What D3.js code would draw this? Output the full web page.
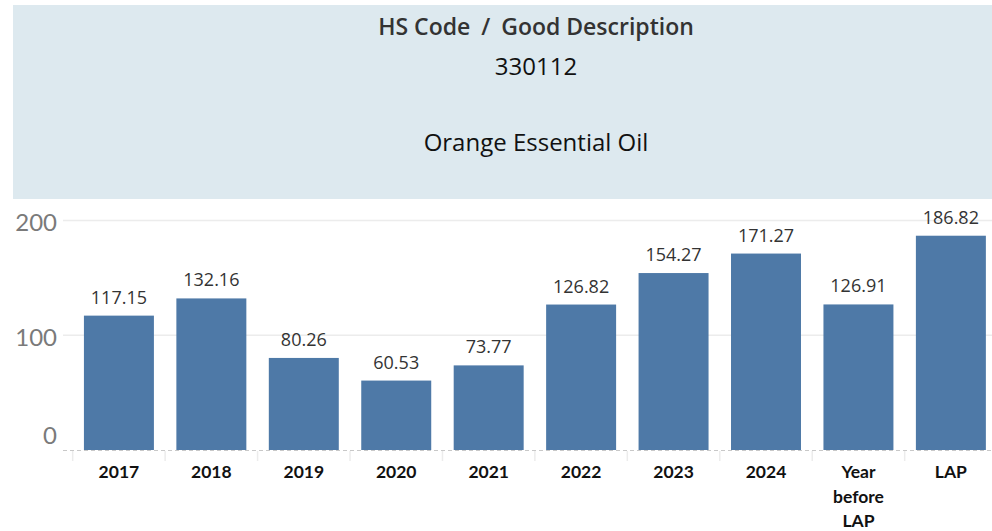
<!DOCTYPE html>
<html>
<head>
<meta charset="utf-8">
<script src="https://cdn.jsdelivr.net/npm/d3@7"></script>
<style>
  html, body { margin: 0; padding: 0; background: #fff; }
  svg { display: block; }
</style>
</head>
<body>
<svg id="chart" width="992" height="531"></svg>
<script>
const titleParts = ["HS Code ", "/ ", "Good Description"];
const codeLine = "330112";
const descLine = "Orange Essential Oil";
const categories = ["2017", "2018", "2019", "2020", "2021", "2022", "2023", "2024", "Year before LAP", "LAP"];
const values = [117.15, 132.16, 80.26, 60.53, 73.77, 126.82, 154.27, 171.27, 126.91, 186.82];
const yTicks = [0, 100, 200];

const svg = d3.select("#chart");
const W = 992, H = 531;

// Header
svg.append("rect").attr("x", 13).attr("y", 5).attr("width", W - 13).attr("height", 194).attr("fill", "#dde9ef");
const cx = 536;
const t0 = svg.append("text").attr("x", cx).attr("y", 35).attr("text-anchor", "middle")
  .attr("font-family", "'Open Sans', Lato, sans-serif").attr("font-weight", 600)
  .attr("font-size", 23).attr("fill", "#333");
titleParts.forEach((p, i) => t0.append("tspan").attr("dx", i === 0 ? 0 : 5).text(p));
svg.append("text").attr("x", cx).attr("y", 75).attr("text-anchor", "middle")
  .attr("font-family", "'Open Sans', sans-serif").attr("font-size", 24).attr("fill", "#111").text(codeLine);
svg.append("text").attr("x", cx).attr("y", 151).attr("text-anchor", "middle")
  .attr("font-family", "'Open Sans', sans-serif").attr("font-size", 24).attr("fill", "#111").text(descLine);

// Scales
const x = d3.scaleBand().domain(categories).range([72.7, 997.1]).paddingInner(0.243).paddingOuter(0.1215);
const y = d3.scaleLinear().domain([0, 200]).range([450, 220.6]);

// Gridlines
svg.append("g").selectAll("line").data(yTicks.filter(d => d !== 0)).join("line")
  .attr("x1", 63).attr("x2", W).attr("y1", d => y(d)).attr("y2", d => y(d))
  .attr("stroke", "#ececec").attr("stroke-width", 1.5);

// Y axis labels
const yAxis = d3.axisLeft(y).tickValues(yTicks).tickSize(0).tickPadding(0);
const gy = svg.append("g").attr("transform", "translate(57,0)").call(yAxis);
gy.select(".domain").remove();
gy.selectAll("text").attr("font-family", "Lato, sans-serif").attr("font-size", 24)
  .attr("fill", "#7a7a7a").attr("dy", d => d === 0 ? "-0.28em" : "0.42em");

// Bars
svg.append("g").selectAll("rect").data(values).join("rect")
  .attr("x", (d, i) => x(categories[i])).attr("width", x.bandwidth())
  .attr("y", d => y(d)).attr("height", d => y(0) - y(d)).attr("fill", "#4e79a7");

// Baseline (dashed)
svg.append("line").attr("x1", 63).attr("x2", W).attr("y1", 450.5).attr("y2", 450.5)
  .attr("stroke", "#c8c8c8").attr("stroke-dasharray", "4,3");

// Category separators
const seps = categories.map((c, i) => x.range()[0] + i * x.step()).concat([x.range()[0] + categories.length * x.step()]);
svg.append("g").selectAll("line").data(seps).join("line")
  .attr("x1", d => d).attr("x2", d => d).attr("y1", 451).attr("y2", 461)
  .attr("stroke", "#ececec").attr("stroke-width", 1.5);

// Value labels
svg.append("g").selectAll("text").data(values).join("text")
  .attr("x", (d, i) => x(categories[i]) + x.bandwidth() / 2).attr("y", d => y(d) - 12)
  .attr("text-anchor", "middle").attr("font-family", "'Open Sans', sans-serif").attr("font-size", 18)
  .attr("fill", "#333").text(d => d.toFixed(2));

// X labels
const gx = svg.append("g");
categories.forEach((c, i) => {
  const words = c === "Year before LAP" ? ["Year", "before", "LAP"] : [c];
  const t = gx.append("text").attr("x", x(c) + x.bandwidth() / 2).attr("y", 478)
    .attr("text-anchor", "middle").attr("font-family", "Lato, sans-serif").attr("font-weight", 700)
    .attr("font-size", 17.5).attr("fill", "#111");
  words.forEach((w, j) => {
    t.append("tspan").attr("x", x(c) + x.bandwidth() / 2).attr("dy", j === 0 ? 0 : 24.5).text(w);
  });
});
</script>
</body>
</html>
